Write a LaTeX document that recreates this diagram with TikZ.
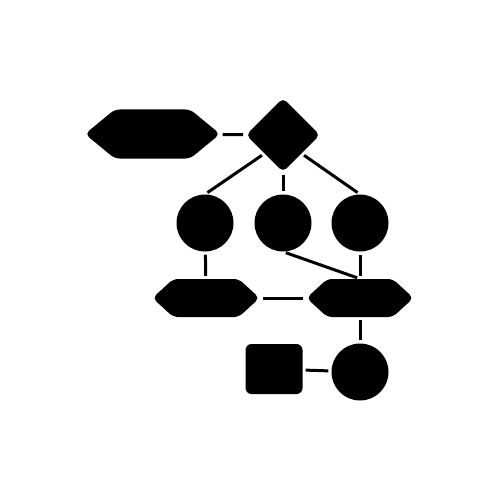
\documentclass[tikz,border=0pt]{standalone}
\usetikzlibrary{shapes.geometric,shapes.symbols}
\begin{document}
\begin{tikzpicture}[x=1pt,y=-1pt,
  blob/.style={fill=black,draw=none,inner sep=0pt},
  circ/.style={blob,circle,minimum size=57pt},
  hexa/.style={blob,signal,signal to=east and west,rounded corners=5pt},
  link/.style={line width=3pt,shorten <=3pt,shorten >=3pt}]
\useasboundingbox[fill=white] (0,0) rectangle (500,500);
\node[hexa,signal pointer angle=79,minimum width=135pt,minimum height=49pt] (h1) at (152.5,134) {};
\node[blob,diamond,rounded corners=5pt,minimum width=74pt,minimum height=74pt] (d) at (283,135) {};
\node[circ] (c1) at (205,223) {};
\node[circ] (c2) at (283,223) {};
\node[circ] (c3) at (360,223) {};
\node[hexa,signal pointer angle=85,minimum width=107pt,minimum height=38pt] (h2) at (206,298) {};
\node[hexa,signal pointer angle=85,minimum width=107pt,minimum height=38pt] (h3) at (360,298) {};
\node[blob,rectangle,rounded corners=6pt,minimum width=57pt,minimum height=50pt] (s) at (274,369) {};
\node[circ] (c4) at (360,372) {};
\draw[link] (h1) -- (d);
\draw[link] (d.south west) -- (c1.north);
\draw[link] (d.south) -- (c2.north);
\draw[link] (d.south east) -- (c3.north);
\draw[link] (c1) -- (h2);
\draw[link] (c2.south) -- (h3.north);
\draw[link] (c3.south) -- (h3.north);
\draw[link] (h2) -- (h3);
\draw[link] (h3) -- (c4);
\draw[link] (s) -- (c4);
\end{tikzpicture}
\end{document}
